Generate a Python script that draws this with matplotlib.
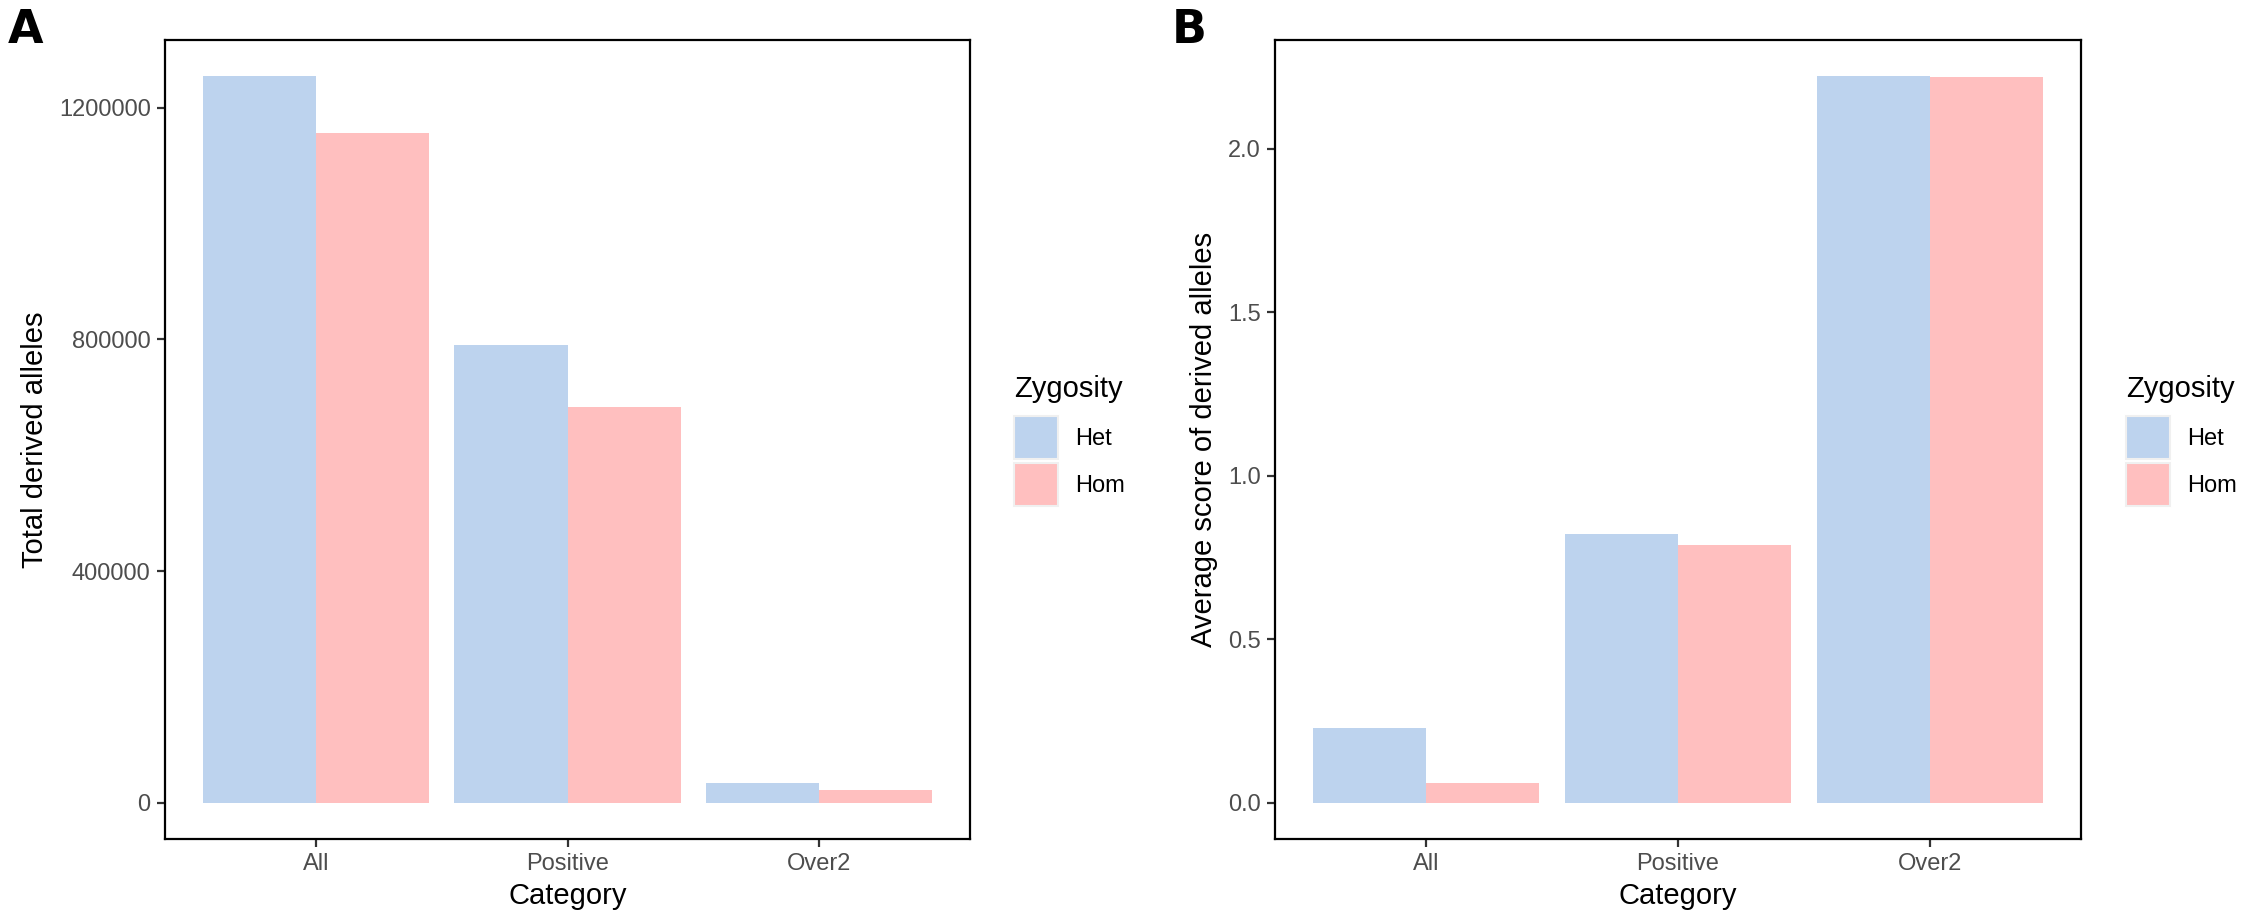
import matplotlib
matplotlib.use("Agg")
import numpy as np
import matplotlib.pyplot as plt
from matplotlib.patches import Patch

plt.rcParams['font.family'] = ['Liberation Sans', 'DejaVu Sans']

categories = ["All", "Positive", "Over2"]
zygosity = ["Het", "Hom"]
colors = ["#BDD3EE", "#FFBFBF"]

# panel A: total derived alleles
total_het = [1255000, 790000, 34500]
total_hom = [1157000, 683000, 22000]

# panel B: average score of derived alleles
avg_het = [0.228, 0.823, 2.223]
avg_hom = [0.061, 0.788, 2.219]

W, H = 2244, 916
fig = plt.figure(figsize=(W / 100, H / 100), dpi=100)


def px(x0, y0, x1, y1):
    return [x0 / W, 1 - y1 / H, (x1 - x0) / W, (y1 - y0) / H]


def draw_panel(ax, het, hom, yticks, yticklabels, ylabel):
    x = np.arange(len(categories))
    w = 0.45
    ax.bar(x - w / 2, het, width=w, color=colors[0], linewidth=0)
    ax.bar(x + w / 2, hom, width=w, color=colors[1], linewidth=0)
    ax.set_xlim(-0.6, len(categories) - 0.4)
    top = max(max(het), max(hom))
    ax.set_ylim(-0.05 * top, 1.05 * top)
    ax.set_xticks(x)
    ax.set_xticklabels(categories)
    ax.set_yticks(yticks)
    ax.set_yticklabels(yticklabels)
    ax.tick_params(labelsize=17, labelcolor="#4D4D4D", color="#333333",
                   length=5.8, width=1.6)
    ax.tick_params(axis="x", pad=4)
    ax.tick_params(axis="y", pad=4.5)
    for s in ax.spines.values():
        s.set_linewidth(1.6)
        s.set_color("black")
    ax.set_xlabel("Category", fontsize=21, labelpad=5)
    ax.set_ylabel(ylabel, fontsize=21, labelpad=7)


def add_legend(x0):
    # title placed as plain text, keys as a legend without title
    fig.text(x0 / W, 1 - 397 / H, "Zygosity", fontsize=21, ha="left", va="baseline")
    handles = [Patch(facecolor=c, edgecolor="#F0F0F0", linewidth=1.5) for c in colors]
    fig.legend(handles, zygosity, loc="upper left",
               bbox_to_anchor=(x0 / W, 1 - 416 / H), frameon=False,
               fontsize=17, handlelength=1.86, handleheight=2.42,
               labelspacing=0.17, handletextpad=0.72,
               borderpad=0, borderaxespad=0)


axA = fig.add_axes(px(165, 39.5, 970, 839))
draw_panel(axA, total_het, total_hom, [0, 400000, 800000, 1200000],
           ["0", "400000", "800000", "1200000"], "Total derived alleles")

axB = fig.add_axes(px(1275, 39.5, 2081, 839))
draw_panel(axB, avg_het, avg_hom, [0, 0.5, 1.0, 1.5, 2.0],
           ["0.0", "0.5", "1.0", "1.5", "2.0"], "Average score of derived alleles")

add_legend(1014)
add_legend(2126)

fig.text(8 / W, 1 - 8 / H, "A", fontsize=33, fontweight="bold", va="top", ha="left",
         family="DejaVu Sans")
fig.text(1172 / W, 1 - 8 / H, "B", fontsize=33, fontweight="bold", va="top", ha="left",
         family="DejaVu Sans")

fig.savefig("out.png", dpi=100, facecolor="white")
